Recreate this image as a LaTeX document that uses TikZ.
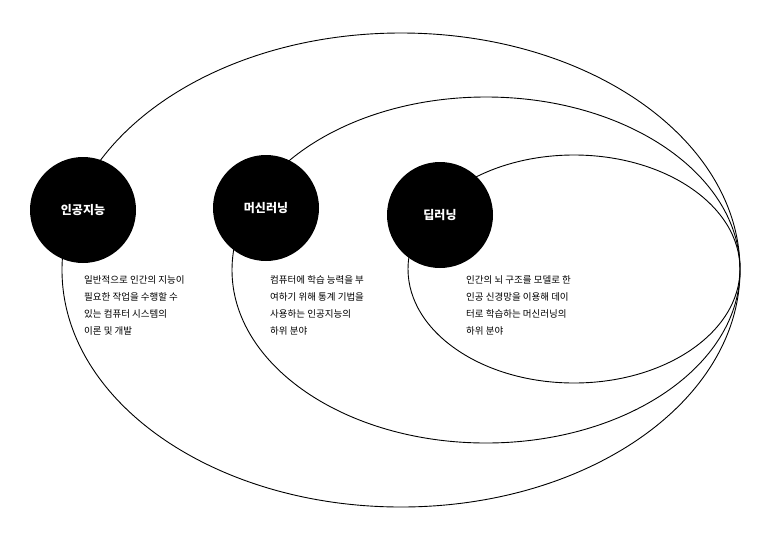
\documentclass[tikz,border=0pt]{standalone}
\usepackage{fontspec}
\newfontfamily\kr{Noto Sans CJK KR}
\begin{document}
\begin{tikzpicture}[x=1pt,y=-1pt,
  ring/.style={draw=black,line width=0.9pt},
  blob/.style={circle,fill=black,minimum size=106pt,inner sep=0pt,text=white,font=\kr\bfseries\fontsize{12}{14}\selectfont},
  desc/.style={anchor=north west,align=left,inner sep=0pt,font=\kr\fontsize{9.5}{17}\selectfont}]
\useasboundingbox (0,0) rectangle (767,536);
\draw[ring] (401,270) ellipse [x radius=339,y radius=237];
\draw[ring] (486,270) ellipse [x radius=254,y radius=173];
\draw[ring] (574,269) ellipse [x radius=166,y radius=114];
\node[blob] (ai) at (83,210) {인공지능};
\node[blob] (ml) at (266,208) {머신러닝};
\node[blob] (dl) at (440,215) {딥러닝};
\node[desc] (t1) at (84,275) {일반적으로 인간의 지능이\\필요한 작업을 수행할 수\\있는 컴퓨터 시스템의\\이론 및 개발};
\node[desc] (t2) at (270,275) {컴퓨터에 학습 능력을 부\\여하기 위해 통계 기법을\\사용하는 인공지능의\\하위 분야};
\node[desc] (t3) at (466,275) {인간의 뇌 구조를 모델로 한\\인공 신경망을 이용해 데이\\터로 학습하는 머신러닝의\\하위 분야};
\end{tikzpicture}
\end{document}
